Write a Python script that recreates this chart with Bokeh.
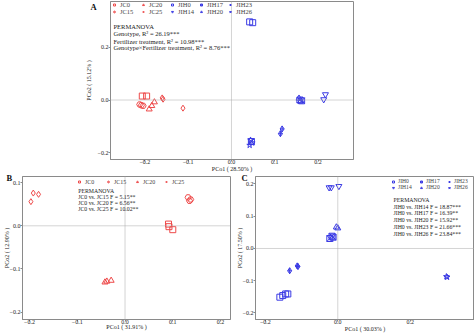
from bokeh.plotting import figure
from bokeh.layouts import row, column, Spacer
from bokeh.models import Span, Label, Legend, LegendItem, FixedTicker, Title
from bokeh.embed import file_html
from bokeh.resources import INLINE

RED = "#EE4A4A"
BLUE = "#3A3AE4"
FONT = "Liberation Serif"
GREY = "#8a8a8a"

# ---------------- data ----------------
# Panel A (all genotypes)
A_groups = ["JC0", "JC15", "JC20", "JC25", "JIH0", "JIH14", "JIH17", "JIH20", "JIH23", "JIH26"]
A_x = {
    "JC0": [-0.206, -0.196],
    "JC15": [-0.212, -0.204, -0.208],
    "JC20": [-0.190, -0.178, -0.184],
    "JC25": [-0.160, -0.158, -0.112],
    "JIH0": [0.042, 0.049],
    "JIH14": [0.217, 0.213],
    "JIH17": [0.158, 0.162, 0.046],
    "JIH20": [0.156, 0.160],
    "JIH23": [0.117, 0.113],
    "JIH26": [0.044, 0.048, 0.042],
}
A_y = {
    "JC0": [0.015, 0.015],
    "JC15": [-0.017, -0.022, -0.020],
    "JC20": [-0.035, -0.008, -0.022],
    "JC25": [0.008, 0.003, -0.031],
    "JIH0": [0.297, 0.294],
    "JIH14": [0.021, 0.002],
    "JIH17": [0.000, -0.003, -0.158],
    "JIH20": [0.006, -0.004],
    "JIH23": [-0.110, -0.128],
    "JIH26": [-0.152, -0.163, -0.172],
}
# Panel B (JC)
B_groups = ["JC0", "JC15", "JC20", "JC25"]
B_x = {
    "JC0": [0.091, 0.092, 0.100],
    "JC15": [0.132, 0.1375, 0.135],
    "JC20": [-0.042, -0.038, -0.029],
    "JC25": [-0.197, -0.192, -0.181],
}
B_y = {
    "JC0": [0.004, -0.002, -0.009],
    "JC15": [0.066, 0.061, 0.058],
    "JC20": [-0.131, -0.129, -0.127],
    "JC25": [0.056, 0.076, 0.073],
}
# Panel C (JIH)
C_groups = ["JIH0", "JIH14", "JIH17", "JIH20", "JIH23", "JIH26"]
C_x = {
    "JIH0": [-0.160, -0.152, -0.144, -0.138],
    "JIH14": [-0.024, -0.018, 0.003],
    "JIH17": [-0.022, -0.016, -0.013],
    "JIH20": [-0.004, 0.000],
    "JIH23": [-0.133, -0.112, -0.110],
    "JIH26": [0.300, 0.302],
}
C_y = {
    "JIH0": [-0.151, -0.146, -0.141, -0.141],
    "JIH14": [0.189, 0.189, 0.193],
    "JIH17": [0.031, 0.038, 0.035],
    "JIH20": [0.066, 0.063],
    "JIH23": [-0.069, -0.054, -0.056],
    "JIH26": [-0.087, -0.089],
}

A_xticks = [-0.2, -0.1, 0.0, 0.1, 0.2]
A_xticklabels = ["\u22120.2", "\u22120.1", "0.0", "0.1", "0.2"]
A_yticks = [-0.2, 0.0, 0.2]
A_yticklabels = ["\u22120.2", "0.0", "0.2"]
B_xticks = [-0.2, -0.1, 0.0, 0.1, 0.2]
B_xticklabels = ["\u22120.2", "\u22120.1", "0.0", "0.1", "0.2"]
B_yticks = [-0.2, -0.1, 0.0, 0.1]
B_yticklabels = ["\u22120.2", "\u22120.1", "0.0", "0.1"]
C_xticks = [-0.2, 0.0, 0.2]
C_xticklabels = ["\u22120.2", "0.0", "0.2"]
C_yticks = [-0.2, -0.1, 0.0, 0.1, 0.2]
C_yticklabels = ["\u22120.2", "\u22120.1", "0.0", "0.1", "0.2"]

A_titles = ["PCo1 ( 28.50% )", "PCo2 ( 15.12% )"]
B_titles = ["PCo1 ( 31.91% )", "PCo2 ( 12.90% )"]
C_titles = ["PCo1 ( 30.03% )", "PCo2 ( 17.50% )"]

A_text = ["PERMANOVA", "Genotype, R\u00b2 = 26.19***", "Fertilizer treatment, R\u00b2 = 10.98***",
          "Genotype\u00d7Fertilizer treatment, R\u00b2 = 8.76***"]
B_text = ["PERMANOVA", "JC0 vs. JC15  F = 5.15**", "JC0 vs. JC20  F = 6.56**", "JC0 vs. JC25  F = 10.02**"]
C_text = ["PERMANOVA", "JIH0 vs. JIH14  F = 18.87***", "JIH0 vs. JIH17  F = 16.39**",
          "JIH0 vs. JIH20  F = 15.92**", "JIH0 vs. JIH23  F = 21.66***", "JIH0 vs. JIH26  F = 23.84***"]

MARKERS = {"JC0": "square", "JC15": "hex", "JC20": "triangle", "JC25": "diamond",
           "JIH0": "square", "JIH14": "inverted_triangle", "JIH17": "square_x",
           "JIH20": "triangle", "JIH23": "diamond_cross", "JIH26": "star"}


def color_of(g):
    return RED if g.startswith("JC") else BLUE


def style_axis(ax, s1, s2):
    ax.axis_label_text_font = FONT
    ax.axis_label_text_font_size = "6px"
    ax.axis_label_text_font_style = "normal"
    ax.axis_label_text_color = "#222222"
    ax.axis_label_standoff = s2
    ax.major_label_text_font = FONT
    ax.major_label_text_font_size = "6px"
    ax.major_label_text_color = "#222222"
    ax.major_label_standoff = s1
    ax.major_tick_out = 2
    ax.major_tick_in = 0
    ax.minor_tick_out = 0
    ax.minor_tick_in = 0
    ax.axis_line_color = GREY
    ax.major_tick_line_color = GREY


def make_fig(w, h, bl, br, bt, bb, xr, yr, xt, xtl, yt, ytl, titles, xs, ys):
    p = figure(width=w, height=h, x_range=xr, y_range=yr, output_backend="svg",
               toolbar_location=None, min_border_left=bl, min_border_right=br,
               min_border_top=bt, min_border_bottom=bb)
    p.xgrid.visible = False
    p.ygrid.visible = False
    p.outline_line_color = GREY
    p.outline_line_width = 1
    p.xaxis.ticker = FixedTicker(ticks=xt)
    p.yaxis.ticker = FixedTicker(ticks=yt)
    p.xaxis.major_label_overrides = {t: l for t, l in zip(xt, xtl)}
    p.yaxis.major_label_overrides = {t: l for t, l in zip(yt, ytl)}
    p.xaxis.axis_label = titles[0]
    p.yaxis.axis_label = titles[1]
    style_axis(p.xaxis[0], *xs)
    style_axis(p.yaxis[0], *ys)
    for dim in ("width", "height"):
        p.add_layout(Span(location=0, dimension=dim, line_color="#a8a8a8",
                          line_dash="1 1", line_width=1))
    return p


def add_points(p, groups, xs, ys):
    rs = {}
    for g in groups:
        rs[g] = p.scatter(xs[g], ys[g], marker=MARKERS[g], size=6, fill_color=None,
                          line_color=color_of(g), line_width=1)
    return rs


def add_texts(p, lines, vx, vys, size):
    for t, vy in zip(lines, vys):
        p.add_layout(Label(x=vx, y=vy, x_units="screen", y_units="screen", text=t,
                           text_font=FONT, text_font_size=size, text_baseline="middle",
                           text_color="#222222"))


def add_letter(p, letter, offset, standoff):
    p.add_layout(Title(text=letter, align="left", vertical_align="bottom", offset=offset,
                       standoff=standoff, text_font=FONT, text_font_size="8.5px",
                       text_font_style="bold", text_color="#111111"), "above")


def add_legend(p, groups, rs, loc, nrows, orientation, fsize, standoff=3):
    items = [LegendItem(label=g, renderers=[rs[g]]) for g in groups]
    leg = Legend(items=items, location=loc, orientation=orientation, nrows=nrows,
                 label_text_font=FONT, label_text_font_size=fsize, label_height=5,
                 glyph_width=6, glyph_height=5, label_standoff=standoff, spacing=0,
                 padding=0, margin=0, border_line_color=None, background_fill_alpha=0)
    p.add_layout(leg)


# ---------------- panel A ----------------
pA = make_fig(310, 174, 50, 17, 1, 15, (-0.2794, 0.2818), (-0.2262, 0.3745),
              A_xticks, A_xticklabels, A_yticks, A_yticklabels, A_titles, (-2, -1), (0, 3))
rA = add_points(pA, A_groups, A_x, A_y)
add_legend(pA, A_groups, rA, (1, 144), 2, "vertical", "6.5px")
add_texts(pA, A_text, 3, [133, 125.7, 118.3, 111.7], "6.5px")
add_letter(pA, "A", -20, -21)

# ---------------- panel B ----------------
pB = make_fig(233, 160, 21, 3, 2, 13, (-0.2146, 0.2208), (-0.2174, 0.1144),
              B_xticks, B_xticklabels, B_yticks, B_yticklabels, B_titles, (-2, -3), (0, -3))
rB = add_points(pB, B_groups, B_x, B_y)
add_legend(pB, B_groups, rB, (54, 134.5), 1, "horizontal", "6px")
add_texts(pB, B_text, 55.7, [128.7, 123, 117, 111], "5.8px")
add_letter(pB, "B", -16, -13)

# ---------------- panel C ----------------
pC = make_fig(241, 160, 22, 0, 2, 13, (-0.2273, 0.3776), (-0.2202, 0.2232),
              C_xticks, C_xticklabels, C_yticks, C_yticklabels, C_titles, (-2, -1), (0, -3))
rC = add_points(pC, C_groups, C_x, C_y)
add_legend(pC, C_groups, rC, (135, 129), 2, "vertical", "5.6px", 2)
add_texts(pC, C_text, 138, [119.3, 112.7, 106.7, 99.7, 92.7, 86], "5.8px")
add_letter(pC, "C", -14, -13)

layout = column(row(Spacer(width=60, height=174), pA), row(pB, pC))

open("out.html", "w").write(file_html(layout, INLINE))
